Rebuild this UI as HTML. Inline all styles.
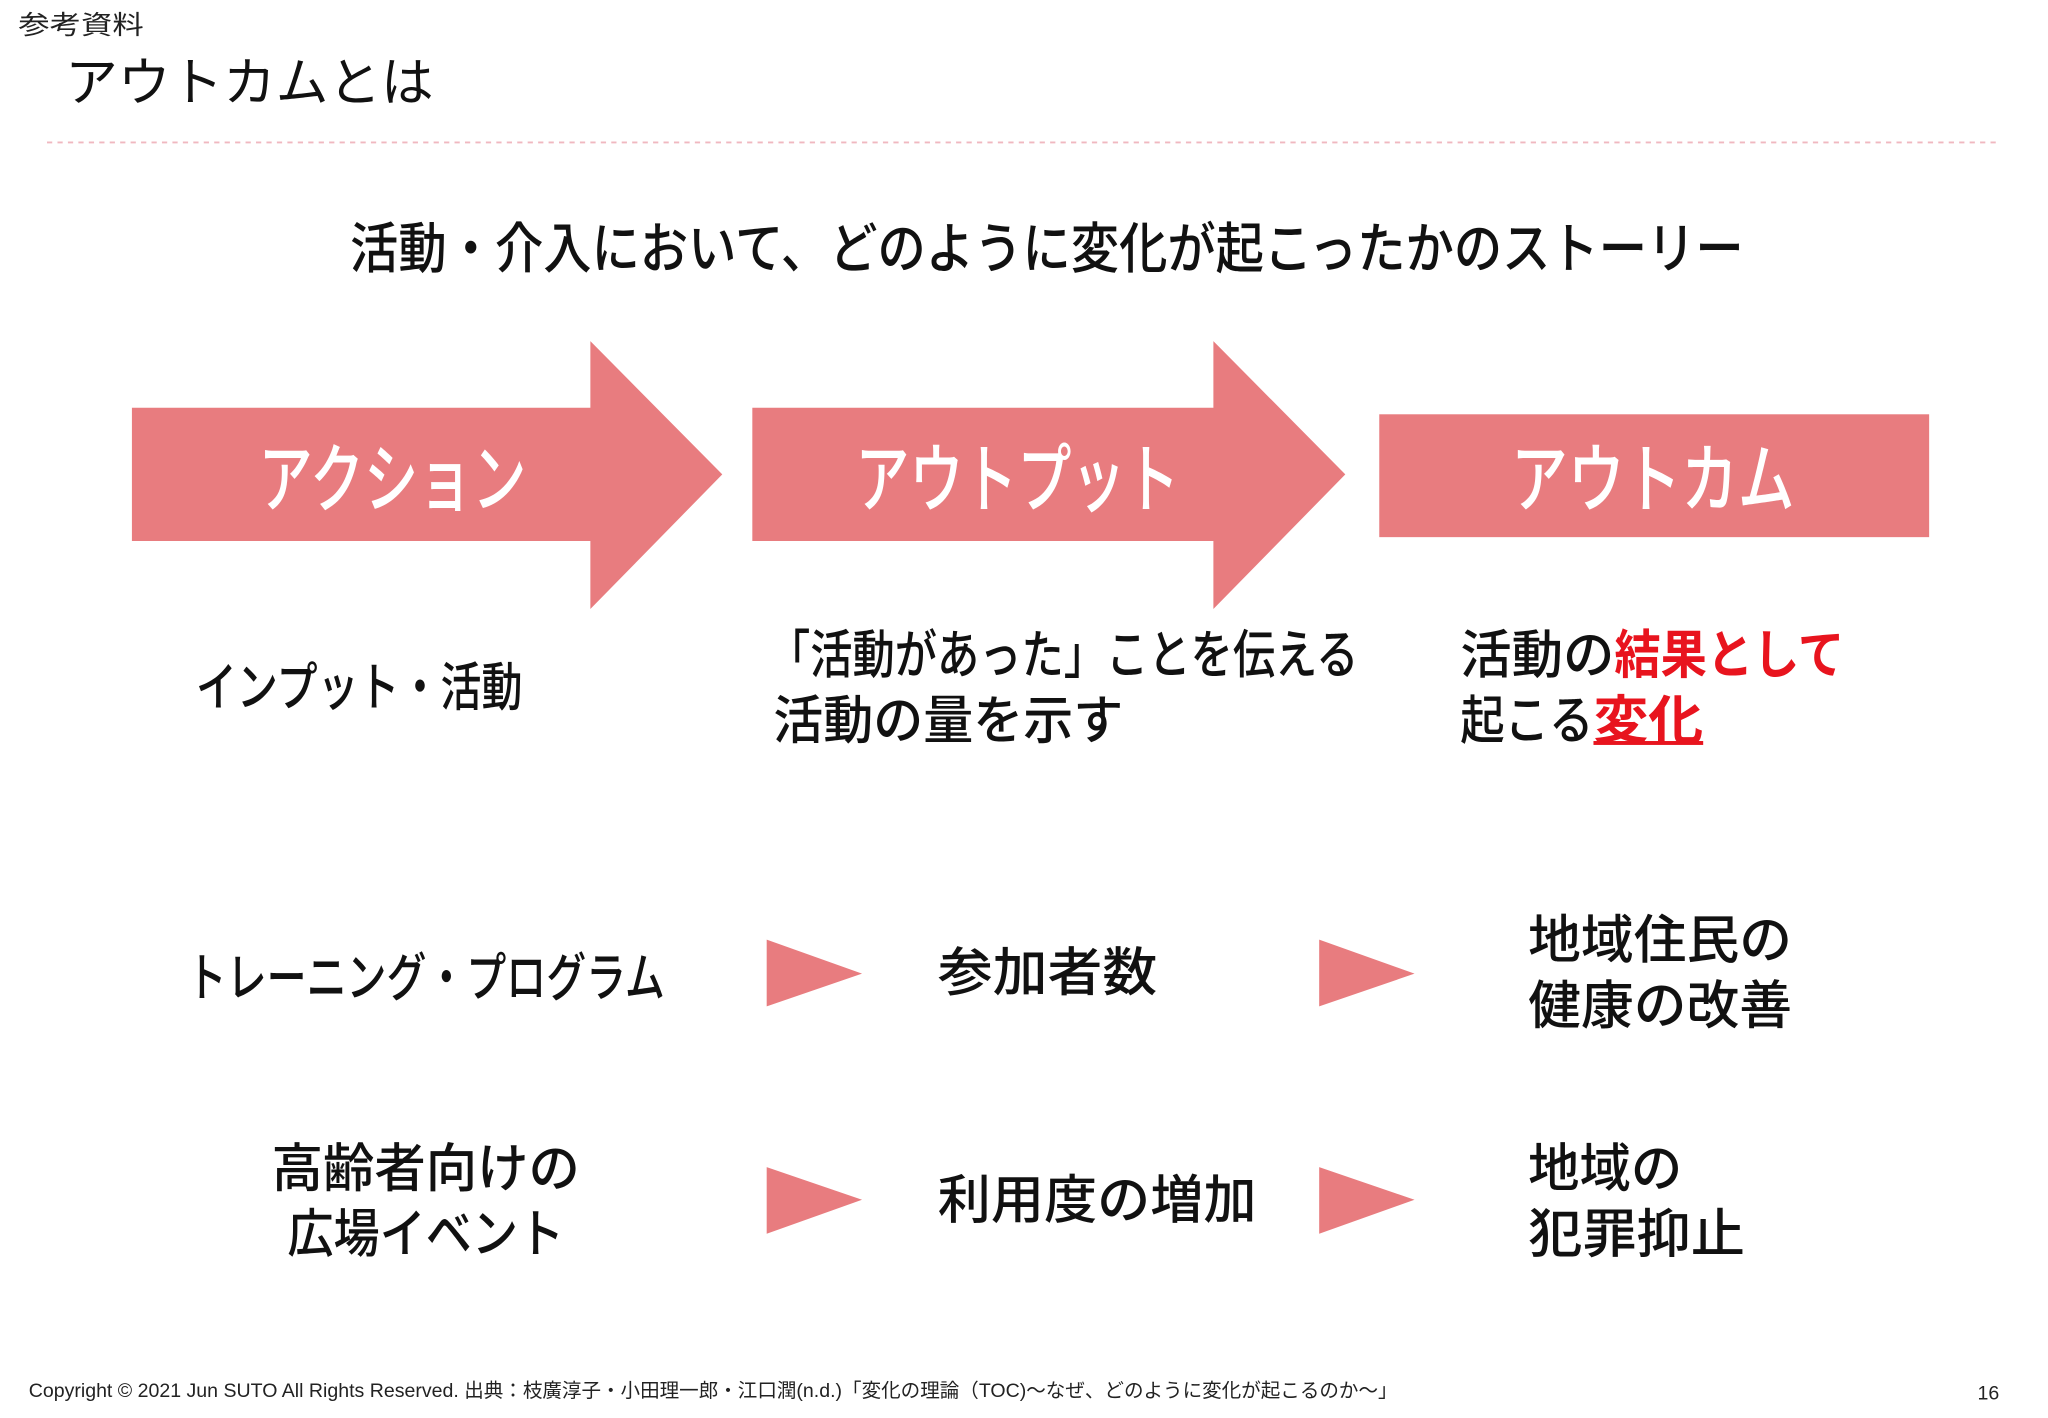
<!DOCTYPE html>
<html><head><meta charset="utf-8"><style>
html,body{margin:0;padding:0;background:#fff;}
svg{display:block;}
text{font-family:"Liberation Sans","Noto Sans CJK JP",sans-serif;}
</style></head><body>
<svg width="2048" height="1418" viewBox="0 0 1568 1085" preserveAspectRatio="none" xmlns="http://www.w3.org/2000/svg">
<rect width="1568" height="1085" fill="#fff"/>
<text x="14" y="26" font-size="20" fill="#222" textLength="96" lengthAdjust="spacingAndGlyphs">参考資料</text>
<text x="50" y="77" font-size="40" fill="#111" textLength="282" lengthAdjust="spacingAndGlyphs">アウトカムとは</text>
<line x1="36" y1="109" x2="1530" y2="109" stroke="#f0b8c0" stroke-width="1.5" stroke-dasharray="4,4"/>
<text x="268" y="205" font-size="42" font-weight="500" fill="#111" textLength="1067" lengthAdjust="spacingAndGlyphs">活動・介入において、どのように変化が起こったかのストーリー</text>
<g fill="#e87c7f">
<polygon points="101,312 452,312 452,261 553,363 452,466 452,414 101,414"/>
<polygon points="576,312 929,312 929,261 1030,363 929,466 929,414 576,414"/>
<rect x="1056" y="317" width="421" height="94"/>
<polygon points="587,719 660,745 587,770"/>
<polygon points="1010,719 1083,745 1010,770"/>
<polygon points="587,893 660,918 587,944"/>
<polygon points="1010,893 1083,918 1010,944"/>
</g>
<g fill="#fff" font-size="58" font-weight="500">
<text x="198" y="387" textLength="205" lengthAdjust="spacingAndGlyphs">アクション</text>
<text x="655" y="387" textLength="248" lengthAdjust="spacingAndGlyphs">アウトプット</text>
<text x="1157" y="387" textLength="217" lengthAdjust="spacingAndGlyphs">アウトカム</text>
</g>
<g fill="#111" font-size="40" font-weight="500">
<text x="150" y="540" textLength="250" lengthAdjust="spacingAndGlyphs">インプット・活動</text>
<text x="588" y="515" textLength="452" lengthAdjust="spacingAndGlyphs">「活動があった」ことを伝える</text>
<text x="592" y="565" textLength="268" lengthAdjust="spacingAndGlyphs">活動の量を示す</text>
<text x="1118" y="515" textLength="118" lengthAdjust="spacingAndGlyphs">活動の</text>
<text x="1236" y="515" textLength="176" lengthAdjust="spacingAndGlyphs" fill="#e8141e" font-weight="bold">結果として</text>
<text x="1118" y="565" textLength="102" lengthAdjust="spacingAndGlyphs">起こる</text>
<text x="1220" y="565" textLength="84" lengthAdjust="spacingAndGlyphs" fill="#e8141e" font-weight="bold">変化</text>
<rect x="1220" y="567" width="84" height="3" fill="#e8141e"/>
<text x="143" y="762" textLength="366" lengthAdjust="spacingAndGlyphs">トレーニング・プログラム</text>
<text x="718" y="758" textLength="168" lengthAdjust="spacingAndGlyphs">参加者数</text>
<text x="1170" y="733" textLength="202" lengthAdjust="spacingAndGlyphs">地域住民の</text>
<text x="1170" y="783" textLength="202" lengthAdjust="spacingAndGlyphs">健康の改善</text>
<text x="208" y="908" textLength="236" lengthAdjust="spacingAndGlyphs">高齢者向けの</text>
<text x="220" y="958" textLength="212" lengthAdjust="spacingAndGlyphs">広場イベント</text>
<text x="718" y="932" textLength="244" lengthAdjust="spacingAndGlyphs">利用度の増加</text>
<text x="1170" y="908" textLength="118" lengthAdjust="spacingAndGlyphs">地域の</text>
<text x="1170" y="958" textLength="166" lengthAdjust="spacingAndGlyphs">犯罪抑止</text>
</g>
<text x="22" y="1069" font-size="15" fill="#222" textLength="1048" lengthAdjust="spacingAndGlyphs">Copyright © 2021 Jun SUTO All Rights Reserved.  出典：枝廣淳子・小田理一郎・江口潤(n.d.)「変化の理論（TOC)～なぜ、どのように変化が起こるのか～」</text>
<text x="1514" y="1071" font-size="15" fill="#222">16</text>
</svg>
</body></html>
